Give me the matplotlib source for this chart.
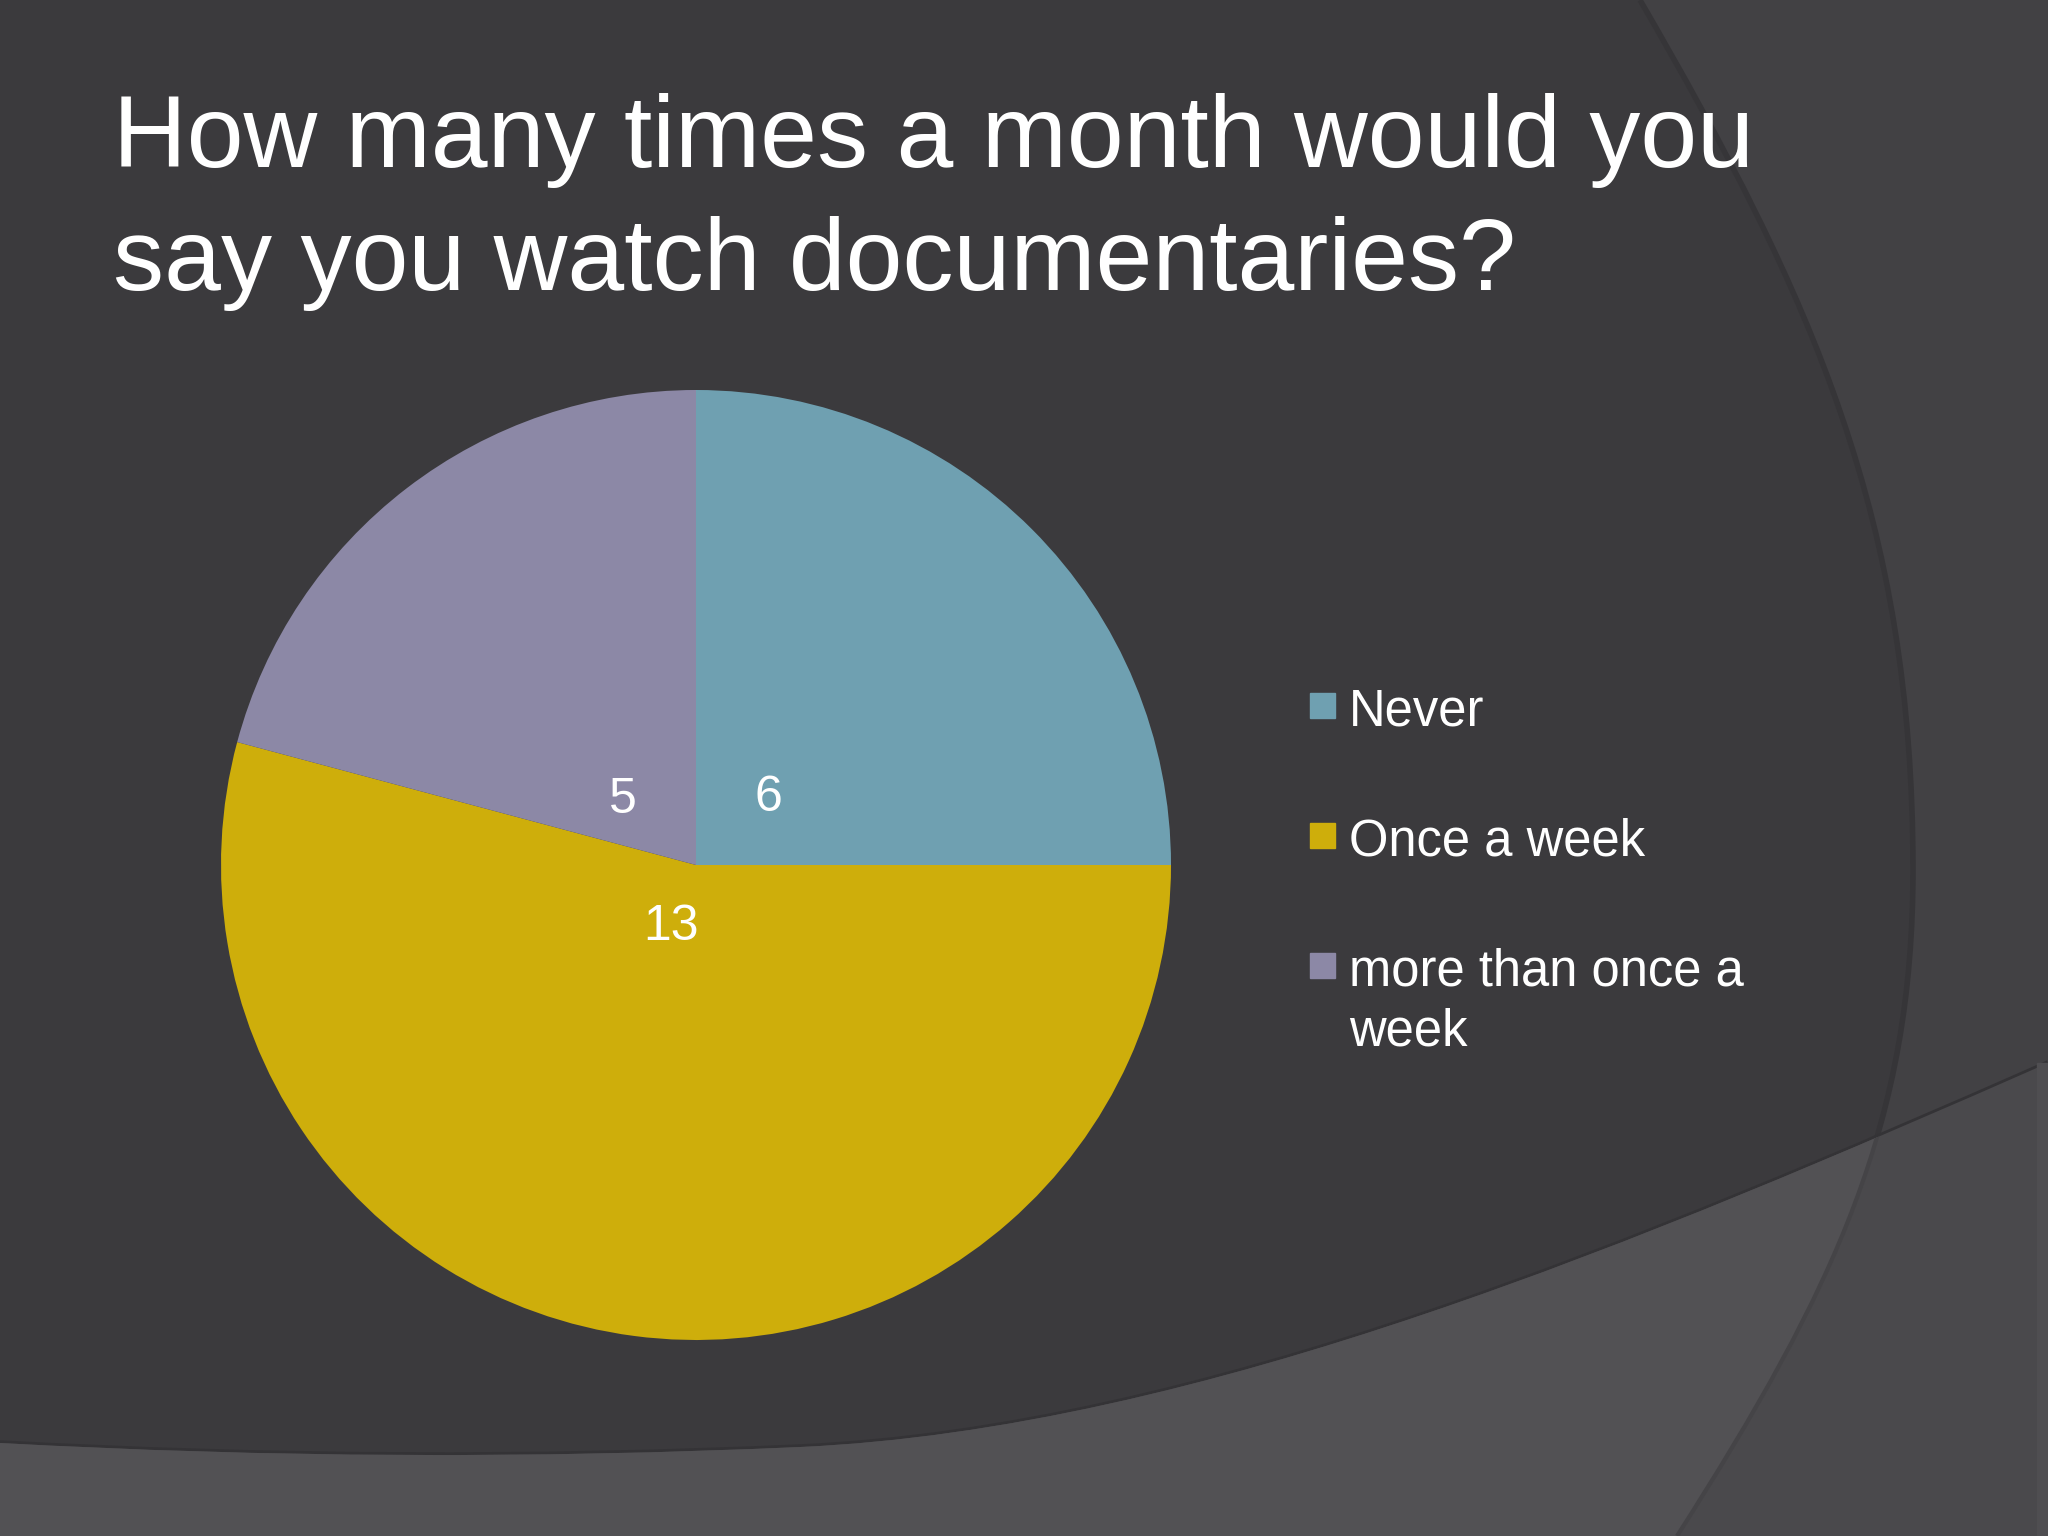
import matplotlib.pyplot as plt
from matplotlib.patches import Rectangle, PathPatch
from matplotlib.path import Path

plt.rcParams['font.family'] = ['Liberation Sans', 'DejaVu Sans']

# Survey data
categories = ['Never', 'Once a week', 'more than once a week']
counts = [6, 13, 5]
colors = ['#6fa0b1', '#ceae0b', '#8c88a6']
legend_lines = [['Never'], ['Once a week'], ['more than once a', 'week']]
title_lines = ['How many times a month would you', 'say you watch documentaries?']

W, H = 2048, 1536
fig = plt.figure(figsize=(W / 100, H / 100), dpi=100)

# Background layer in pixel coordinates (y downwards)
bg = fig.add_axes([0, 0, 1, 1])
bg.set_xlim(0, W)
bg.set_ylim(H, 0)
bg.axis('off')
bg.add_patch(Rectangle((0, 0), W, H, color='#424144', zorder=0))

# big dark arc shape on the left
C4 = Path.CURVE4
arc_verts = [(0, 0), (1640, 0),
             (1814, 300), (1913, 520), (1913, 870),
             (1913, 1120), (1837, 1286), (1677, 1536),
             (0, H), (0, 0)]
arc_codes = [Path.MOVETO, Path.LINETO, C4, C4, C4, C4, C4, C4,
             Path.LINETO, Path.CLOSEPOLY]
arc_path = Path(arc_verts, arc_codes)
dark = PathPatch(arc_path, facecolor='#3b3a3d', edgecolor='none', zorder=1)
bg.add_patch(dark)
edge = Path(arc_verts[1:8], [Path.MOVETO] + [C4] * 6)
bg.add_patch(PathPatch(edge, facecolor='none', edgecolor='#363538', lw=4, zorder=2))

# lighter band along the bottom
band_verts = [(0, 1443), (400, 1465), (800, 1447),
              (1200, 1429), (1648, 1239), (2048, 1063),
              (2048, H), (0, H), (0, 1443)]
band_codes = [Path.MOVETO, Path.CURVE3, Path.CURVE3, C4, C4, C4,
              Path.LINETO, Path.LINETO, Path.CLOSEPOLY]
band_path = Path(band_verts, band_codes)
bg.add_patch(PathPatch(Path(band_verts[:6], [Path.MOVETO, Path.CURVE3, Path.CURVE3, C4, C4, C4]),
                       facecolor='none', edgecolor='#343336', lw=4, zorder=3))
bg.add_patch(PathPatch(band_path, facecolor='#4a494c', edgecolor='none', zorder=4))
inner = PathPatch(band_path, facecolor='#525154', edgecolor='none', zorder=5)
bg.add_patch(inner)
inner.set_clip_path(dark)
edge2 = PathPatch(edge, facecolor='none', edgecolor='#454447', lw=3, zorder=6)
bg.add_patch(edge2)
edge2.set_clip_path(PathPatch(band_path, transform=bg.transData))
bg.add_patch(Rectangle((2037, 1063), 11, H - 1063, color='#4f4e51', zorder=6))

# Title
for i, line in enumerate(title_lines):
    bg.text(113, 167 + i * 123, line, color='white', fontsize=73.5, va='baseline', ha='left', zorder=10)

# Pie chart
cx, cy, r = 696, 865, 475
ax = fig.add_axes([(cx - r) / W, (H - cy - r) / H, 2 * r / W, 2 * r / H])
total = sum(counts)
wedges, texts, autotexts = ax.pie(
    counts, colors=colors, startangle=90, counterclock=False,
    autopct=lambda p: f'{round(p * total / 100):d}', pctdistance=0.21,
    textprops=dict(color='white', fontsize=36),
    wedgeprops=dict(linewidth=0))
ax.set_xlim(-1, 1)
ax.set_ylim(-1, 1)
ax.set_aspect('equal')
# best-fit data label placement
for t, pos in zip(autotexts, [(0.152, 0.142), (-0.053, -0.13), (-0.154, 0.137)]):
    t.set_position(pos)

# Legend
base = 725
for i, lines in enumerate(legend_lines):
    y = base + i * 130
    bg.add_patch(Rectangle((1310, y - 32), 25, 25, color=colors[i], zorder=10))
    for j, line in enumerate(lines):
        bg.text(1349, y + j * 60, line, color='white', fontsize=36.5, va='baseline', ha='left', zorder=10)

fig.savefig('out.png', dpi=100, facecolor='#3b3a3d')
